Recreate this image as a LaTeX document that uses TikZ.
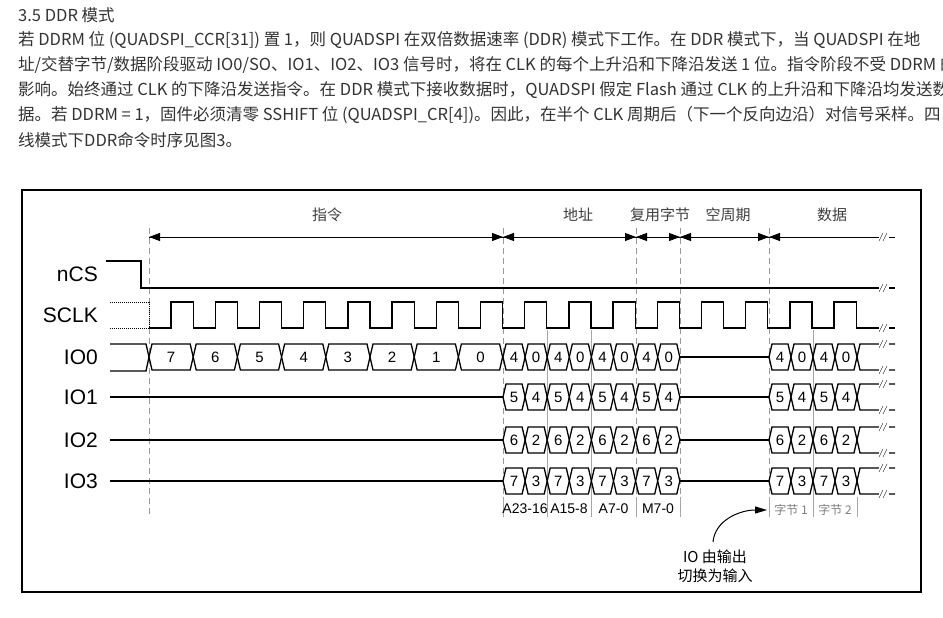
\documentclass[tikz,border=0pt]{standalone}
\usepackage{fontspec}
\setmainfont{Liberation Sans}
\newfontfamily\cjk{Noto Sans CJK SC}
\usetikzlibrary{arrows.meta,calc}
\definecolor{txt}{HTML}{333333}
\newcommand{\hexcell}[5]{% x1 x2 yc label name
  \draw[sig,fill=white] (#1,#3) -- (#1+3,#3-13) -- (#2-3,#3-13) -- (#2,#3) -- (#2-3,#3+13) -- (#1+3,#3+13) -- cycle;
  \node[digit] (#5) at ({(#1+#2)/2},#3) {#4};}
\newcommand{\brkmark}[2]{%
  \draw[fill=white,draw=white] (#1-3,#2-5) rectangle (#1+6,#2+5);
  \draw[thin] (#1-3,#2+4) -- (#1+1,#2-4) (#1+1,#2+4) -- (#1+5,#2-4);}
\begin{document}
\begin{tikzpicture}[x=1pt,y=-1pt,
  sig/.style={line width=1.3pt,line join=miter},
  digit/.style={font=\fontsize{15}{15}\selectfont,inner sep=0pt},
  rowlab/.style={font=\fontsize{21}{21}\selectfont,anchor=east,inner sep=0pt},
  para/.style={font=\cjk\fontsize{16.5}{16.5}\selectfont,text=txt,anchor=west,inner sep=0pt},
  phase/.style={font=\cjk\fontsize{15}{15}\selectfont,text=black!75,inner sep=0pt},
  dashln/.style={gray!80,dashed,dash pattern=on 6pt off 4pt,line width=0.7pt},
  tick/.style={gray!70,line width=0.6pt},
  ph/.style={line width=0.8pt},
  phtip/.style={-{Triangle[length=11pt,width=8pt]}}]
\useasboundingbox (0,0) rectangle (943,618);
\fill[white] (0,0) rectangle (943,618);
% paragraph
\node[para] (p1) at (18,15) {3.5 DDR 模式};
\node[para] (p2) at (18,40) {若 DDRM 位 (QUADSPI\_CCR[31]) 置 1，则 QUADSPI 在双倍数据速率 (DDR) 模式下工作。在 DDR 模式下，当 QUADSPI 在地};
\node[para] (p3) at (18,65) {址/交替字节/数据阶段驱动 IO0/SO、IO1、IO2、IO3 信号时，将在 CLK 的每个上升沿和下降沿发送 1 位。指令阶段不受 DDRM 的};
\node[para] (p4) at (18,90) {影响。始终通过 CLK 的下降沿发送指令。在 DDR 模式下接收数据时，QUADSPI 假定 Flash 通过 CLK 的上升沿和下降沿均发送数};
\node[para] (p5) at (18,115) {据。若 DDRM = 1，固件必须清零 SSHIFT 位 (QUADSPI\_CR[4])。因此，在半个 CLK 周期后（下一个反向边沿）对信号采样。四};
\node[para] (p6) at (18,140) {线模式下DDR命令时序见图3。};
% frame
\draw[line width=1.2pt] (22,190) rectangle (921,592);
% grey ticks & dashed lines
\foreach \x in {547,591} \draw[tick] (\x,330) -- (\x,517);
\foreach \x in {813} \draw[tick] (\x,330) -- (\x,517);
\foreach \x in {857} \draw[tick] (\x,497) -- (\x,517);
\foreach \x in {149,503,636,680,769} \draw[dashln] (\x,228) -- (\x,517);
% phase arrows
\coordinate (a0) at (149,237); \coordinate (a1) at (503,237); \coordinate (a2) at (636,237);
\coordinate (a3) at (680,237); \coordinate (a4) at (769,237); \coordinate (a5) at (895,237);
\draw[ph] (a0) -- (a5);
\foreach \l/\r in {a0/a1,a1/a2,a2/a3,a3/a4}{
  \draw[ph,phtip] ($(\l)!0.5!(\r)$) -- (\l);
  \draw[ph,phtip] ($(\l)!0.5!(\r)$) -- (\r);}
\draw[ph,phtip] (790,237) -- (a4);
\node[phase] (l1) at (327,215) {指令};
\node[phase] (l2) at (578,215) {地址};
\node[phase] (l3) at (660,215) {复用字节};
\node[phase] (l4) at (728,215) {空周期};
\node[phase] (l5) at (832,215) {数据};
% row labels
\node[rowlab] (nCS) at (98,274) {nCS};
\node[rowlab] (SCLK) at (98,315) {SCLK};
\node[rowlab] (IO0) at (98,357) {IO0};
\node[rowlab] (IO1) at (98,397) {IO1};
\node[rowlab] (IO2) at (98,440) {IO2};
\node[rowlab] (IO3) at (98,481) {IO3};
% nCS
\draw[sig] (106,261) -- (141,261) -- (141,288) -- (895,288);
% SCLK
\draw[densely dotted,line width=1pt] (110,302) -- (149,302) (110,328) -- (149,328) (149,302) -- (149,328);
\draw[sig] (149,328) \foreach \k in {0,...,15}{ -- ({171.1+44.2*\k},328) -- ({171.1+44.2*\k},302) -- ({193.2+44.2*\k},302) -- ({193.2+44.2*\k},328)} -- (895,328);
% IO0 command
\draw[sig] (110,344) -- (146,344) -- (149,357) -- (146,371) -- (110,371);
\foreach \v [count=\i from 0] in {7,6,5,4,3,2,1,0}{
  \pgfmathsetmacro\xa{149+44.2*\i}\pgfmathsetmacro\xb{149+44.2*(\i+1)}
  \hexcell{\xa}{\xb}{357}{\v}{c\i}}
% IO1-3 idle lines
\foreach \y in {397,440,481} \draw[sig] (110,\y) -- (503,\y);
\foreach \y in {357,397,440,481} \draw[sig] (680,\y) -- (769,\y);
% address / alt cells
\foreach \y/\a/\b [count=\r] in {357/4/0,397/5/4,440/6/2,481/7/3}{
  \foreach \i in {0,...,7}{
    \pgfmathsetmacro\xa{503+22.1*\i}\pgfmathsetmacro\xb{503+22.1*(\i+1)}
    \pgfmathtruncatemacro\odd{mod(\i,2)}
    \ifnum\odd=0 \hexcell{\xa}{\xb}{\y}{\a}{ad\r\i}\else\hexcell{\xa}{\xb}{\y}{\b}{ad\r\i}\fi}
  \foreach \i in {0,...,3}{
    \pgfmathsetmacro\xa{769+22*\i}\pgfmathsetmacro\xb{769+22*(\i+1)}
    \pgfmathtruncatemacro\odd{mod(\i,2)}
    \ifnum\odd=0 \hexcell{\xa}{\xb}{\y}{\a}{da\r\i}\else\hexcell{\xa}{\xb}{\y}{\b}{da\r\i}\fi}
  \draw[sig] (895,\y-13) -- (860,\y-13) -- (857,\y) -- (860,\y+13) -- (895,\y+13);
  \brkmark{882}{\y-13}\brkmark{882}{\y+13}}
\brkmark{882}{237}\brkmark{882}{288}\brkmark{882}{328}
% labels below
\foreach \x in {503,547,591,636,680,769} \draw[tick] (\x,497) -- (\x,517);
\node[font=\fontsize{14}{14}\selectfont,inner sep=0pt] (b1) at (525,509) {A23-16};
\node[font=\fontsize{14}{14}\selectfont,inner sep=0pt] (b2) at (569,509) {A15-8};
\node[font=\fontsize{14}{14}\selectfont,inner sep=0pt] (b3) at (613.5,509) {A7-0};
\node[font=\fontsize{14}{14}\selectfont,inner sep=0pt] (b4) at (658,509) {M7-0};
\node[font=\cjk\fontsize{12}{12}\selectfont,text=gray,inner sep=0pt] (d1) at (791,510) {字节 1};
\node[font=\cjk\fontsize{12}{12}\selectfont,text=gray,inner sep=0pt] (d2) at (835,510) {字节 2};
% annotation
\node[font=\cjk\fontsize{15}{15}\selectfont,inner sep=0pt,align=center] (note) at (715,566) {IO 由输出\\[4pt]切换为输入};
\coordinate (arr) at (767,510);
\draw[line width=1pt,-{Triangle[length=12pt,width=7pt]}] (713,542) .. controls (715,520) and (740,510) .. (arr);
\end{tikzpicture}
\end{document}
